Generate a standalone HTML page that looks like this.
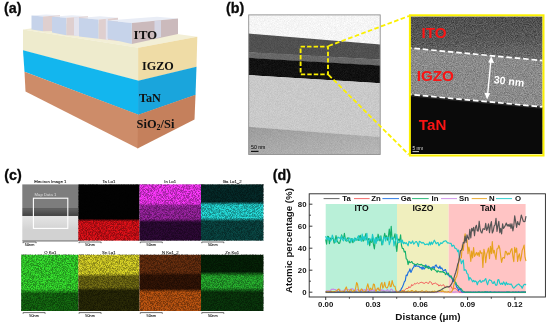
<!DOCTYPE html>
<html><head><meta charset="utf-8"><title>Figure</title>
<style>
html,body{margin:0;padding:0;background:#fff;}
body{width:550px;height:325px;overflow:hidden;}
svg{display:block}
.lab{font-family:"Liberation Sans",Arial,sans-serif;font-weight:bold;font-size:14.3px;fill:#0a0a0a;stroke:#0a0a0a;stroke-width:0.3px}
.ser{font-family:"Liberation Serif","Times New Roman",serif;font-weight:bold;font-size:11.5px;fill:#111}
.red{font-family:"Liberation Sans",Arial,sans-serif;font-weight:bold;font-size:14px;fill:#fa1414}
.tiny{font-family:"Liberation Sans",Arial,sans-serif;font-size:4.25px;fill:#000;stroke:#000;stroke-width:0.06px}
.ax{font-family:"Liberation Sans",Arial,sans-serif;font-weight:bold;font-size:7.8px;fill:#111}
.axl{font-family:"Liberation Sans",Arial,sans-serif;font-weight:bold;font-size:9.4px;fill:#111}
</style></head><body>
<svg width="550" height="325" viewBox="0 0 550 325">
<defs>
<filter id="nz" x="0" y="0" width="100%" height="100%" color-interpolation-filters="sRGB">
<feTurbulence type="fractalNoise" baseFrequency="1.37" numOctaves="2" seed="3" result="t"/>
<feColorMatrix type="matrix" values="0 0 0 0 0  0 0 0 0 0  0 0 0 0 0  3.2 0 0 0 -1.1"/>
</filter>
<filter id="nz2" x="0" y="0" width="100%" height="100%">
<feTurbulence type="fractalNoise" baseFrequency="0.9" numOctaves="2" seed="11" result="t"/>
<feColorMatrix type="matrix" values="0 0 0 0 0.5  0 0 0 0 0.5  0 0 0 0 0.5  1.2 0 0 0 -0.45"/>
</filter>
<filter id="grain" color-interpolation-filters="sRGB" x="0" y="0" width="100%" height="100%">
<feTurbulence type="fractalNoise" baseFrequency="1.1" numOctaves="2" seed="5" result="n"/>
<feColorMatrix in="n" type="matrix" values="1 0 0 0 0  1 0 0 0 0  1 0 0 0 0  0 0 0 0 1" result="g"/>
<feComposite in="SourceGraphic" in2="g" operator="arithmetic" k1="0" k2="1" k3="0.36" k4="-0.18"/>
</filter>
<filter id="grain2" color-interpolation-filters="sRGB" x="0" y="0" width="100%" height="100%">
<feTurbulence type="fractalNoise" baseFrequency="1.3" numOctaves="2" seed="9" result="n"/>
<feColorMatrix in="n" type="matrix" values="1 0 0 0 0  1 0 0 0 0  1 0 0 0 0  0 0 0 0 1" result="g"/>
<feComposite in="SourceGraphic" in2="g" operator="arithmetic" k1="0" k2="1" k3="0.13" k4="-0.065"/>
</filter>
<linearGradient id="gito" x1="0" y1="0" x2="0.1" y2="1">
<stop offset="0" stop-color="#4e4e4e"/><stop offset="0.6" stop-color="#585858"/><stop offset="1" stop-color="#6a6a6a"/></linearGradient>
<linearGradient id="gsi" x1="0" y1="0" x2="1" y2="1">
<stop offset="0" stop-color="#9c9c9c"/><stop offset="1" stop-color="#b8b8b8"/></linearGradient>
<linearGradient id="gtan" x1="0" y1="0" x2="0" y2="1">
<stop offset="0" stop-color="#3a3a3a"/><stop offset="0.25" stop-color="#0c0c0c"/><stop offset="1" stop-color="#080808"/></linearGradient>
<clipPath id="cb"><rect x="248.6" y="14.8" width="131.6" height="139.6"/></clipPath>
<clipPath id="cz"><rect x="409.5" y="16.5" width="133" height="137.5"/></clipPath>
<clipPath id="cd"><rect x="309" y="193.5" width="235.5" height="104"/></clipPath>
</defs>
<rect width="550" height="325" fill="#ffffff"/>

<g id="pa">
<text class="lab" x="4" y="13.4">(a)</text>
<polygon points="23,29.5 84,21.5 197.3,36.8 138.2,47.7" fill="#f3efd6"/>
<polygon points="23,29.5 138.8,47.7 138.8,81 23,50.5" fill="#eeebcd"/>
<polygon points="23,50.2 138.8,80.7 138.8,115 24.5,71.7" fill="#13b6ee"/>
<polygon points="24.5,71.7 138.8,114.7 138.1,148.5 25.5,91.5" fill="#cd8c69"/>
<polygon points="138.2,47.7 197.3,36.8 196.5,67 138.2,81" fill="#efdca6"/>
<polygon points="138.2,80.7 196.5,66.7 195.5,95 138.2,115" fill="#1aa5dc"/>
<polygon points="138.2,114.7 195.5,94.7 194.5,119.5 137.5,148.5" fill="#c5805c"/>
<polygon points="31.5,15.6 43,16.4 60,15.2 46,14.6" fill="#e9edf6"/>
<polygon points="43,16.4 60,15.2 60,31 43,31.2" fill="#dfcfcf"/>
<polygon points="31.5,15.6 43,16.4 43,31.2 31.5,29.5" fill="#c6d3ea"/>
<polygon points="52,16.8 66.3,17.8 88,16.2 72,15.3" fill="#e9edf6"/>
<polygon points="66.3,17.8 88,16.2 88,36 66.3,35.3" fill="#dfcfcf"/>
<polygon points="52,16.8 66.3,17.8 66.3,35.3 52,32.6" fill="#c6d3ea"/>
<polygon points="79,18 98.5,19.6 118,17.8 100,16.3" fill="#e9edf6"/>
<polygon points="98.5,19.6 118,17.8 118,41 98.5,38.8" fill="#dfcfcf"/>
<polygon points="79,18 98.5,19.6 98.5,38.8 79,36.6" fill="#c6d3ea"/>
<polygon points="74,17.3 79,17 79,35.9 74,35.7" fill="#e3e3ee"/>
<polygon points="105.8,19 108,18.8 108,40.2 105.8,39.7" fill="#e3e3ee"/>
<polygon points="107.6,20.5 131.8,23 178,18.6 157,16.8" fill="#e9edf6"/>
<polygon points="131.8,23 178,18.6 178,34 131.8,44" fill="#cbbabc"/>
<polygon points="107.6,20.5 131.8,23 131.8,44 107.6,38.6" fill="#c6d3ea"/>
<polygon points="154.5,20.8 161,20.2 161,37 154.5,38.5" fill="#d6dcec" opacity="0.8"/>
<text class="ser" x="133.6" y="38.8" style="font-size:13px">ITO</text>
<text class="ser" x="142" y="69.8" style="font-size:12.2px">IGZO</text>
<text class="ser" x="139" y="102.3" style="font-size:12.2px">TaN</text>
<text class="ser" x="136.6" y="127.8" style="font-size:12.4px">SiO<tspan dy="2.5" style="font-size:8px">2</tspan><tspan dy="-2.5">/Si</tspan></text>
</g>
<g id="pb">
<text class="lab" x="226" y="13.4">(b)</text>
<g clip-path="url(#cb)"><g filter="url(#grain2)">
<rect x="248" y="14.5" width="132" height="140" fill="#f5f5f5"/>
<polygon points="247.5,33.5 380.5,44.5 380.5,59.8 247.5,52.3" fill="#505050"/>
<polygon points="247.5,52 380.5,59.5 380.5,65.7 247.5,58" fill="#686868"/>
<polygon points="247.5,57.8 380.5,65.5 380.5,83.3 247.5,75" fill="#111111"/>
<polygon points="247.5,75 380.5,83.3 380.5,137.2 247.5,127" fill="#c9c9c9"/>
<polygon points="247.5,126.7 380.5,136.9 380.5,156 247.5,156" fill="url(#gsi)"/>
</g></g>
<rect x="248.7" y="14.9" width="131.5" height="139.6" fill="none" stroke="#909090" stroke-width="0.9"/>
<text class="tiny" x="251" y="149.4" style="font-size:5.2px;fill:#111">50 nm</text>
<rect x="251" y="150.8" width="7.5" height="1.2" fill="#111"/>
<rect x="300.6" y="46.6" width="27.4" height="27.8" fill="none" stroke="#fbf000" stroke-width="1.9" stroke-dasharray="4.4 2.1"/>
<line x1="328.5" y1="46" x2="409" y2="16" stroke="#fbf000" stroke-width="1.8" stroke-dasharray="4.6 2.4"/>
<line x1="328.5" y1="74.8" x2="408.7" y2="154.5" stroke="#fbf000" stroke-width="1.8" stroke-dasharray="4.6 2.4"/>
<g clip-path="url(#cz)"><g filter="url(#grain)">
<rect x="409" y="16" width="134" height="139" fill="#555555"/>
<polygon points="409,16 543,16 543,60.6 409,47.9" fill="url(#gito)"/>
<polygon points="409,47.9 543,60.6 543,106.9 409,94.4" fill="#8a8a8a"/>
</g>
<polygon points="409,94.4 543,106.9 543,156 409,156" fill="#0a0a0a"/>
<polygon points="409,94.4 543,106.9 543,109 409,96.5" fill="#333" opacity="0.7"/>
<line x1="409" y1="47.9" x2="543" y2="60.6" stroke="#fff" stroke-width="1.7" stroke-dasharray="5.6 2.8" stroke-dashoffset="3"/>
<line x1="409" y1="94.4" x2="543" y2="106.9" stroke="#fff" stroke-width="1.7" stroke-dasharray="5.6 2.8" stroke-dashoffset="3"/>
</g>
<rect x="409.9" y="15.3" width="133.6" height="140.2" fill="none" stroke="#fbf000" stroke-width="2"/>
<text class="red" x="421.6" y="37.9" style="font-size:15.2px">ITO</text>
<text class="red" x="416.8" y="81.2" style="font-size:15.2px">IGZO</text>
<text class="red" x="418.8" y="129.5" style="font-size:15.2px">TaN</text>
<g stroke="#fff" stroke-width="1.4" fill="#fff"><line x1="490.9" y1="60" x2="487.5" y2="96"/><polygon points="491.3,56.2 494,63 488.2,62.4" stroke="none"/><polygon points="487.1,99.6 490.2,93.2 484.4,92.7" stroke="none"/></g>
<text x="493.5" y="83" transform="rotate(7 493.5 83)" font-family="Liberation Sans, Arial, sans-serif" font-weight="bold" style="font-size:10.6px;fill:#fff">30 nm</text>
<text class="tiny" x="412.5" y="150.3" style="font-size:4.8px;fill:#e8e8e8">5 nm</text>
<rect x="412.5" y="151.2" width="6.5" height="0.9" fill="#e8e8e8"/>
</g>
<g id="pc">
<text class="lab" x="4.3" y="180.4">(c)</text>
<linearGradient id="tg1" gradientUnits="userSpaceOnUse" x1="0" y1="184.4" x2="0" y2="240.6"><stop offset="0.000" stop-color="#7d7d7d"/><stop offset="0.416" stop-color="#7d7d7d"/><stop offset="0.427" stop-color="#5f5f5f"/><stop offset="0.447" stop-color="#5f5f5f"/><stop offset="0.536" stop-color="#484848"/><stop offset="0.555" stop-color="#484848"/><stop offset="0.569" stop-color="#e2e2e2"/><stop offset="0.598" stop-color="#e2e2e2"/><stop offset="0.811" stop-color="#d2d2d2"/><stop offset="1.000" stop-color="#d2d2d2"/></linearGradient>
<rect x="22.3" y="184.4" width="56.0" height="56.2" fill="url(#tg1)"/>
<linearGradient id="tg2" gradientUnits="userSpaceOnUse" x1="0" y1="184.4" x2="0" y2="240.6"><stop offset="0.000" stop-color="#030303"/><stop offset="0.610" stop-color="#030303"/><stop offset="0.657" stop-color="#e41119"/><stop offset="1.000" stop-color="#e41119"/></linearGradient>
<rect x="78.3" y="184.4" width="61.2" height="56.2" fill="url(#tg2)"/>
<linearGradient id="tg3" gradientUnits="userSpaceOnUse" x1="0" y1="184.4" x2="0" y2="240.6"><stop offset="0.000" stop-color="#ff38ff"/><stop offset="0.331" stop-color="#ff38ff"/><stop offset="0.388" stop-color="#a025a7"/><stop offset="0.614" stop-color="#a025a7"/><stop offset="0.671" stop-color="#2f0a38"/><stop offset="1.000" stop-color="#2f0a38"/></linearGradient>
<rect x="139.5" y="184.4" width="61.5" height="56.2" fill="url(#tg3)"/>
<linearGradient id="tg4" gradientUnits="userSpaceOnUse" x1="0" y1="184.4" x2="0" y2="240.6"><stop offset="0.000" stop-color="#052b2a"/><stop offset="0.308" stop-color="#052b2a"/><stop offset="0.365" stop-color="#25dedc"/><stop offset="0.598" stop-color="#25dedc"/><stop offset="0.655" stop-color="#0a4845"/><stop offset="1.000" stop-color="#0a4845"/></linearGradient>
<rect x="201" y="184.4" width="62.4" height="56.2" fill="url(#tg4)"/>
<linearGradient id="tg5" gradientUnits="userSpaceOnUse" x1="0" y1="254.8" x2="0" y2="311"><stop offset="0.000" stop-color="#38e42f"/><stop offset="0.610" stop-color="#38e42f"/><stop offset="0.689" stop-color="#156d11"/><stop offset="1.000" stop-color="#156d11"/></linearGradient>
<rect x="21.2" y="254.8" width="57.1" height="56.2" fill="url(#tg5)"/>
<linearGradient id="tg6" gradientUnits="userSpaceOnUse" x1="0" y1="254.8" x2="0" y2="311"><stop offset="0.000" stop-color="#ded828"/><stop offset="0.331" stop-color="#ded828"/><stop offset="0.388" stop-color="#756f14"/><stop offset="0.580" stop-color="#756f14"/><stop offset="0.637" stop-color="#2a2a07"/><stop offset="1.000" stop-color="#2a2a07"/></linearGradient>
<rect x="78.3" y="254.8" width="61.2" height="56.2" fill="url(#tg6)"/>
<linearGradient id="tg7" gradientUnits="userSpaceOnUse" x1="0" y1="254.8" x2="0" y2="311"><stop offset="0.000" stop-color="#692f0f"/><stop offset="0.310" stop-color="#692f0f"/><stop offset="0.367" stop-color="#341506"/><stop offset="0.605" stop-color="#341506"/><stop offset="0.662" stop-color="#bf5611"/><stop offset="1.000" stop-color="#bf5611"/></linearGradient>
<rect x="139.5" y="254.8" width="61.5" height="56.2" fill="url(#tg7)"/>
<linearGradient id="tg8" gradientUnits="userSpaceOnUse" x1="0" y1="254.8" x2="0" y2="311"><stop offset="0.000" stop-color="#052307"/><stop offset="0.299" stop-color="#052307"/><stop offset="0.377" stop-color="#28b32f"/><stop offset="0.587" stop-color="#28b32f"/><stop offset="0.665" stop-color="#0a380c"/><stop offset="1.000" stop-color="#0a380c"/></linearGradient>
<rect x="201" y="254.8" width="62.4" height="56.2" fill="url(#tg8)"/>
<rect x="78.3" y="184.4" width="185.1" height="56.0" filter="url(#nz)" opacity="0.38"/>
<rect x="21.2" y="254.8" width="242.2" height="56.2" filter="url(#nz)" opacity="0.38"/>
<rect x="33.4" y="198.2" width="34.4" height="30.2" fill="none" stroke="#fff" stroke-width="1.1"/>
<text x="34.6" y="196" font-family="Liberation Sans, Arial, sans-serif" style="font-size:4.2px;fill:#dedede">Map Data 1</text>
<text class="tiny" x="50.3" y="183.2" text-anchor="middle">Electron Image 1</text>
<text class="tiny" x="50.3" y="253.5" text-anchor="middle">O Kα1</text>
<path d="M23.1,243.2 V242.0 H36.1 V243.2" fill="none" stroke="#333" stroke-width="0.7"/>
<text class="tiny" x="29.6" y="246.0" text-anchor="middle" style="font-size:3.8px">50nm</text>
<path d="M23.1,313.8 V312.6 H45.1 V313.8" fill="none" stroke="#333" stroke-width="0.7"/>
<text class="tiny" x="34.1" y="316.6" text-anchor="middle" style="font-size:3.8px">50nm</text>
<text class="tiny" x="108.9" y="183.2" text-anchor="middle">Ta Lα1</text>
<text class="tiny" x="108.9" y="253.5" text-anchor="middle">Sn Lα1</text>
<path d="M79.1,243.2 V242.0 H101.1 V243.2" fill="none" stroke="#333" stroke-width="0.7"/>
<text class="tiny" x="90.1" y="246.0" text-anchor="middle" style="font-size:3.8px">50nm</text>
<path d="M79.1,313.8 V312.6 H101.1 V313.8" fill="none" stroke="#333" stroke-width="0.7"/>
<text class="tiny" x="90.1" y="316.6" text-anchor="middle" style="font-size:3.8px">50nm</text>
<text class="tiny" x="170.2" y="183.2" text-anchor="middle">In Lα1</text>
<text class="tiny" x="170.2" y="253.5" text-anchor="middle">N Kα1_2</text>
<path d="M140.3,243.2 V242.0 H162.3 V243.2" fill="none" stroke="#333" stroke-width="0.7"/>
<text class="tiny" x="151.3" y="246.0" text-anchor="middle" style="font-size:3.8px">50nm</text>
<path d="M140.3,313.8 V312.6 H162.3 V313.8" fill="none" stroke="#333" stroke-width="0.7"/>
<text class="tiny" x="151.3" y="316.6" text-anchor="middle" style="font-size:3.8px">50nm</text>
<text class="tiny" x="232.2" y="183.2" text-anchor="middle">Ga Lα1_2</text>
<text class="tiny" x="232.2" y="253.5" text-anchor="middle">Zn Kα1</text>
<path d="M201.8,243.2 V242.0 H223.8 V243.2" fill="none" stroke="#333" stroke-width="0.7"/>
<text class="tiny" x="212.8" y="246.0" text-anchor="middle" style="font-size:3.8px">50nm</text>
<path d="M201.8,313.8 V312.6 H223.8 V313.8" fill="none" stroke="#333" stroke-width="0.7"/>
<text class="tiny" x="212.8" y="316.6" text-anchor="middle" style="font-size:3.8px">50nm</text>
<rect x="22.3" y="240.5" width="56" height="0.9" fill="#555"/>
</g>
<g id="pd">
<text class="lab" x="272.8" y="180.4">(d)</text>
<rect x="325.7" y="204" width="71.3" height="89.2" fill="#b9f0d8"/>
<rect x="397.0" y="204" width="51.7" height="89.2" fill="#f0efbe"/>
<rect x="448.7" y="204" width="76.9" height="89.2" fill="#ffc4c4"/>
<g clip-path="url(#cd)">
<polyline points="325.7,291.7 326.6,290.9 327.6,291.0 328.5,290.9 329.4,291.1 330.4,290.5 331.3,289.2 332.3,289.4 333.2,289.0 334.1,289.5 335.1,289.5 336.0,289.7 336.9,291.2 337.9,289.6 338.8,289.5 339.7,289.4 340.7,291.1 341.6,291.7 342.5,291.2 343.5,290.7 344.4,289.9 345.4,290.0 346.3,289.5 347.2,290.3 348.2,289.8 349.1,289.6 350.0,290.4 351.0,288.7 351.9,289.1 352.8,288.8 353.8,290.1 354.7,290.6 355.6,290.4 356.6,290.2 357.5,289.5 358.5,289.6 359.4,290.2 360.3,290.8 361.3,290.6 362.2,289.2 363.1,290.4 364.1,289.9 365.0,289.6 365.9,291.0 366.9,290.2 367.8,289.0 368.8,291.3 369.7,290.6 370.6,290.2 371.6,290.7 372.5,289.8 373.4,289.9 374.4,291.1 375.3,289.6 376.2,289.3 377.2,289.0 378.1,288.5 379.0,289.2 380.0,289.6 380.9,290.9 381.9,289.7 382.8,290.4 383.7,290.4 384.7,291.1 385.6,291.1 386.5,290.7 387.5,289.2 388.4,291.3 389.3,291.5 390.3,290.2 391.2,289.0 392.1,289.4 393.1,291.3 394.0,292.1 395.0,291.0 395.9,291.4 396.8,291.7 397.8,291.4 398.7,291.5 399.6,291.8 400.6,291.9 401.5,292.0 402.4,291.8 403.4,291.9 404.3,291.9 405.3,291.9 406.2,292.2 407.1,291.9 408.1,291.9 409.0,291.9 409.9,292.2 410.9,292.2 411.8,292.0 412.7,292.2 413.7,292.1 414.6,291.9 415.5,292.2 416.5,291.9 417.4,291.9 418.4,292.0 419.3,292.0 420.2,291.9 421.2,292.0 422.1,291.9 423.0,292.1 424.0,292.1 424.9,291.9 425.8,292.0 426.8,292.1 427.7,291.9 428.6,291.8 429.6,292.0 430.5,292.2 431.5,292.1 432.4,292.1 433.3,292.1 434.3,291.9 435.2,292.1 436.1,291.9 437.1,292.2 438.0,292.2 438.9,292.0 439.9,291.9 440.8,291.9 441.7,291.9 442.7,292.0 443.6,292.0 444.6,291.9 445.5,292.0 446.4,292.0 447.4,291.9 448.3,292.0 449.2,291.9 450.2,291.9 451.1,291.7 452.0,291.9 453.0,292.1 453.9,292.1 454.9,292.1 455.8,291.9 456.7,292.0 457.7,292.0 458.6,291.8 459.5,292.2 460.5,292.2 461.4,292.1 462.3,292.0 463.3,292.0 464.2,292.1 465.1,292.0 466.1,292.0 467.0,292.1 468.0,291.7 468.9,291.9 469.8,292.1 470.8,292.1 471.7,292.1 472.6,292.1 473.6,292.2 474.5,292.2 475.4,292.0 476.4,292.2 477.3,292.1 478.2,291.9 479.2,291.9 480.1,291.8 481.1,292.2 482.0,292.1 482.9,292.1 483.9,292.0 484.8,291.9 485.7,292.2 486.7,292.0 487.6,292.2 488.5,292.0 489.5,292.2 490.4,292.1 491.4,291.9 492.3,292.0 493.2,292.0 494.2,291.9 495.1,292.0 496.0,292.0 497.0,291.8 497.9,291.8 498.8,292.0 499.8,291.7 500.7,292.1 501.6,291.9 502.6,292.0 503.5,292.0 504.5,291.9 505.4,292.0 506.3,291.9 507.3,292.2 508.2,292.2 509.1,292.0 510.1,292.2 511.0,292.2 511.9,292.2 512.9,291.9 513.8,291.9 514.7,291.8 515.7,292.1 516.6,292.1 517.6,292.2 518.5,292.0 519.4,291.8 520.4,292.1 521.3,291.8 522.2,291.8 523.2,292.0 524.1,292.2 525.0,291.9 526.0,292.0" fill="none" stroke="#c98ae6" stroke-width="1.1" stroke-linejoin="round"/>
<polyline points="325.7,292.2 326.6,292.2 327.6,292.1 328.5,292.0 329.4,292.2 330.4,292.1 331.3,292.0 332.3,291.9 333.2,292.1 334.1,292.2 335.1,292.1 336.0,292.2 336.9,292.2 337.9,292.0 338.8,292.2 339.7,292.2 340.7,292.2 341.6,292.2 342.5,292.2 343.5,292.2 344.4,292.2 345.4,292.2 346.3,292.1 347.2,292.2 348.2,292.0 349.1,292.2 350.0,292.0 351.0,292.0 351.9,291.9 352.8,292.2 353.8,292.1 354.7,292.2 355.6,292.2 356.6,292.2 357.5,292.2 358.5,292.2 359.4,292.2 360.3,292.2 361.3,292.2 362.2,292.2 363.1,292.2 364.1,292.0 365.0,292.1 365.9,292.1 366.9,292.0 367.8,292.2 368.8,292.2 369.7,292.2 370.6,292.1 371.6,292.2 372.5,292.2 373.4,292.1 374.4,292.1 375.3,292.2 376.2,292.1 377.2,292.1 378.1,292.2 379.0,292.2 380.0,292.2 380.9,292.1 381.9,292.2 382.8,292.2 383.7,292.2 384.7,292.2 385.6,292.2 386.5,292.2 387.5,292.2 388.4,292.2 389.3,292.2 390.3,292.2 391.2,292.2 392.1,292.2 393.1,292.2 394.0,292.2 395.0,292.2 395.9,292.2 396.8,292.2 397.8,292.1 398.7,291.9 399.6,291.7 400.6,291.5 401.5,290.9 402.4,290.6 403.4,290.3 404.3,290.8 405.3,289.5 406.2,288.5 407.1,288.6 408.1,288.4 409.0,286.6 409.9,287.8 410.9,286.5 411.8,284.5 412.7,285.7 413.7,284.7 414.6,283.4 415.5,283.9 416.5,283.4 417.4,282.8 418.4,283.6 419.3,283.2 420.2,282.7 421.2,282.2 422.1,282.6 423.0,282.8 424.0,283.4 424.9,283.2 425.8,282.3 426.8,282.5 427.7,283.2 428.6,283.5 429.6,281.5 430.5,281.9 431.5,282.5 432.4,284.8 433.3,283.6 434.3,283.5 435.2,282.9 436.1,283.6 437.1,284.3 438.0,284.3 438.9,286.1 439.9,284.9 440.8,285.1 441.7,286.0 442.7,285.1 443.6,284.7 444.6,286.6 445.5,286.9 446.4,286.4 447.4,286.4 448.3,286.8 449.2,287.5 450.2,285.9 451.1,286.4 452.0,288.3 453.0,289.3 453.9,288.0 454.9,288.5 455.8,288.6 456.7,289.5 457.7,290.9 458.6,291.1 459.5,292.2 460.5,292.2 461.4,292.2 462.3,292.1 463.3,292.2 464.2,292.2 465.1,292.1 466.1,292.1 467.0,292.1 468.0,292.1 468.9,292.2 469.8,292.1 470.8,292.2 471.7,292.2 472.6,292.2 473.6,292.2 474.5,292.2 475.4,292.2 476.4,292.2 477.3,292.2 478.2,292.2 479.2,292.2 480.1,292.2 481.1,292.1 482.0,292.1 482.9,292.2 483.9,292.1 484.8,292.2 485.7,292.2 486.7,292.2 487.6,292.2 488.5,292.1 489.5,292.2 490.4,292.2 491.4,292.2 492.3,292.1 493.2,292.2 494.2,292.2 495.1,292.2 496.0,292.2 497.0,292.1 497.9,292.2 498.8,292.0 499.8,292.0 500.7,292.2 501.6,292.1 502.6,292.0 503.5,292.0 504.5,292.0 505.4,292.2 506.3,292.2 507.3,292.1 508.2,292.2 509.1,292.1 510.1,292.1 511.0,292.0 511.9,292.2 512.9,291.9 513.8,291.9 514.7,292.1 515.7,292.2 516.6,291.8 517.6,292.1 518.5,292.1 519.4,292.0 520.4,292.1 521.3,292.2 522.2,292.2 523.2,292.2 524.1,292.0 525.0,292.0 526.0,292.2" fill="none" stroke="#f25a5a" stroke-width="1.0" stroke-linejoin="round"/>
<polyline points="325.7,292.1 326.6,292.1 327.6,292.1 328.5,292.2 329.4,292.2 330.4,292.1 331.3,292.2 332.3,292.2 333.2,292.2 334.1,292.2 335.1,292.2 336.0,292.2 336.9,292.2 337.9,292.2 338.8,292.1 339.7,292.2 340.7,292.2 341.6,292.2 342.5,292.0 343.5,292.1 344.4,292.0 345.4,292.2 346.3,292.2 347.2,292.2 348.2,292.2 349.1,292.1 350.0,292.2 351.0,292.2 351.9,292.1 352.8,292.2 353.8,292.2 354.7,292.2 355.6,292.2 356.6,292.2 357.5,292.2 358.5,292.2 359.4,292.1 360.3,292.1 361.3,292.0 362.2,292.0 363.1,292.2 364.1,292.2 365.0,292.2 365.9,292.2 366.9,292.2 367.8,292.2 368.8,292.1 369.7,292.2 370.6,292.2 371.6,292.2 372.5,292.2 373.4,292.2 374.4,292.2 375.3,292.2 376.2,292.1 377.2,292.1 378.1,292.2 379.0,292.2 380.0,292.2 380.9,292.2 381.9,292.2 382.8,292.2 383.7,292.2 384.7,292.2 385.6,292.2 386.5,292.2 387.5,292.2 388.4,292.2 389.3,292.2 390.3,292.1 391.2,292.2 392.1,292.2 393.1,292.2 394.0,292.2 395.0,292.1 395.9,292.1 396.8,292.2 397.8,292.2 398.7,292.0 399.6,291.3 400.6,290.5 401.5,288.6 402.4,287.0 403.4,284.6 404.3,281.9 405.3,280.6 406.2,275.0 407.1,275.6 408.1,272.3 409.0,271.6 409.9,268.9 410.9,272.4 411.8,270.5 412.7,268.3 413.7,267.2 414.6,264.4 415.5,266.4 416.5,265.7 417.4,266.2 418.4,266.1 419.3,266.7 420.2,267.8 421.2,267.2 422.1,269.3 423.0,266.7 424.0,269.1 424.9,268.0 425.8,264.9 426.8,267.4 427.7,267.8 428.6,266.2 429.6,267.4 430.5,269.0 431.5,267.9 432.4,267.1 433.3,266.7 434.3,268.7 435.2,265.7 436.1,264.9 437.1,267.0 438.0,267.3 438.9,268.4 439.9,266.1 440.8,268.7 441.7,267.8 442.7,269.7 443.6,271.1 444.6,270.1 445.5,269.6 446.4,272.1 447.4,274.7 448.3,274.2 449.2,276.2 450.2,277.2 451.1,276.7 452.0,278.0 453.0,281.8 453.9,279.9 454.9,283.4 455.8,284.3 456.7,287.2 457.7,288.0 458.6,290.5 459.5,288.8 460.5,289.3 461.4,291.6 462.3,292.2 463.3,292.2 464.2,292.0 465.1,292.2 466.1,292.2 467.0,292.2 468.0,292.2 468.9,292.2 469.8,292.2 470.8,292.2 471.7,292.2 472.6,292.2 473.6,292.1 474.5,292.2 475.4,292.2 476.4,292.2 477.3,292.2 478.2,292.0 479.2,292.0 480.1,292.2 481.1,292.2 482.0,292.2 482.9,292.2 483.9,292.2 484.8,292.2 485.7,292.1 486.7,292.1 487.6,291.9 488.5,292.2 489.5,292.2 490.4,291.8 491.4,292.2 492.3,292.2 493.2,292.2 494.2,292.2 495.1,292.1 496.0,292.2 497.0,292.2 497.9,292.2 498.8,292.1 499.8,292.2 500.7,292.2 501.6,292.2 502.6,292.2 503.5,292.2 504.5,292.2 505.4,292.2 506.3,292.1 507.3,292.1 508.2,292.1 509.1,292.1 510.1,292.2 511.0,292.2 511.9,292.2 512.9,292.2 513.8,292.2 514.7,292.2 515.7,292.1 516.6,292.2 517.6,292.1 518.5,291.9 519.4,292.2 520.4,292.2 521.3,292.2 522.2,292.0 523.2,292.1 524.1,292.1 525.0,292.2 526.0,292.2" fill="none" stroke="#1a6ee0" stroke-width="1.15" stroke-linejoin="round"/>
<polyline points="325.7,239.4 326.6,244.1 327.6,236.3 328.5,236.6 329.4,243.6 330.4,238.1 331.3,239.5 332.3,238.2 333.2,238.3 334.1,243.2 335.1,240.5 336.0,235.6 336.9,240.4 337.9,242.2 338.8,243.4 339.7,243.2 340.7,239.1 341.6,234.9 342.5,237.6 343.5,238.5 344.4,233.4 345.4,239.9 346.3,241.2 347.2,238.3 348.2,237.8 349.1,241.8 350.0,242.9 351.0,239.1 351.9,238.7 352.8,242.7 353.8,240.4 354.7,241.0 355.6,238.4 356.6,239.6 357.5,239.7 358.5,240.4 359.4,236.8 360.3,235.3 361.3,239.8 362.2,237.1 363.1,241.2 364.1,239.5 365.0,236.9 365.9,233.6 366.9,239.9 367.8,239.7 368.8,238.5 369.7,245.7 370.6,240.0 371.6,242.4 372.5,237.6 373.4,244.1 374.4,249.0 375.3,239.9 376.2,237.3 377.2,240.8 378.1,234.2 379.0,238.7 380.0,240.9 380.9,235.9 381.9,245.0 382.8,241.9 383.7,238.2 384.7,233.4 385.6,237.5 386.5,235.8 387.5,240.2 388.4,236.2 389.3,229.0 390.3,239.4 391.2,226.4 392.1,239.3 393.1,238.3 394.0,237.7 395.0,233.8 395.9,244.8 396.8,251.5 397.8,240.4 398.7,239.1 399.6,241.2 400.6,234.8 401.5,245.5 402.4,248.5 403.4,248.6 404.3,252.0 405.3,251.3 406.2,258.8 407.1,259.4 408.1,264.6 409.0,261.0 409.9,262.6 410.9,262.3 411.8,261.5 412.7,263.3 413.7,263.8 414.6,264.2 415.5,264.6 416.5,264.6 417.4,263.7 418.4,264.2 419.3,264.5 420.2,265.0 421.2,264.3 422.1,264.9 423.0,265.8 424.0,265.5 424.9,266.4 425.8,267.8 426.8,266.0 427.7,266.9 428.6,268.6 429.6,267.4 430.5,268.2 431.5,270.3 432.4,268.1 433.3,269.2 434.3,269.2 435.2,270.1 436.1,270.8 437.1,272.3 438.0,270.6 438.9,271.4 439.9,271.9 440.8,271.6 441.7,272.0 442.7,271.6 443.6,272.5 444.6,272.5 445.5,274.6 446.4,273.7 447.4,273.2 448.3,273.1 449.2,275.4 450.2,276.3 451.1,275.9 452.0,278.5 453.0,279.0 453.9,279.3 454.9,281.8 455.8,282.4 456.7,284.9 457.7,285.7 458.6,287.0 459.5,288.0 460.5,288.5 461.4,289.0 462.3,290.8 463.3,291.5 464.2,291.7 465.1,292.2 466.1,292.2 467.0,292.1 468.0,292.2 468.9,292.1 469.8,292.2 470.8,292.1 471.7,292.2 472.6,292.2 473.6,292.2 474.5,292.2 475.4,292.1 476.4,292.2 477.3,292.2 478.2,292.1 479.2,292.0 480.1,292.2 481.1,292.2 482.0,292.1 482.9,292.1 483.9,292.2 484.8,291.9 485.7,291.9 486.7,292.2 487.6,292.2 488.5,292.2 489.5,292.1 490.4,292.1 491.4,292.2 492.3,292.2 493.2,292.2 494.2,292.1 495.1,292.2 496.0,292.2 497.0,292.2 497.9,292.2 498.8,292.2 499.8,292.2 500.7,292.2 501.6,292.2 502.6,292.2 503.5,292.2 504.5,292.2 505.4,292.2 506.3,292.2 507.3,292.1 508.2,292.1 509.1,292.0 510.1,292.2 511.0,292.2 511.9,292.2 512.9,292.0 513.8,292.2 514.7,292.2 515.7,292.1 516.6,292.2 517.6,292.2 518.5,292.2 519.4,292.2 520.4,292.2 521.3,292.1 522.2,292.2 523.2,292.1 524.1,292.2 525.0,292.1 526.0,292.1" fill="none" stroke="#14b06a" stroke-width="1.15" stroke-linejoin="round"/>
<polyline points="325.7,236.1 326.6,239.3 327.6,237.2 328.5,240.0 329.4,237.7 330.4,241.1 331.3,240.0 332.3,235.1 333.2,237.4 334.1,239.4 335.1,242.3 336.0,242.0 336.9,239.4 337.9,237.0 338.8,237.8 339.7,237.8 340.7,239.2 341.6,235.9 342.5,239.7 343.5,240.8 344.4,237.4 345.4,238.8 346.3,240.0 347.2,241.0 348.2,240.4 349.1,238.0 350.0,238.2 351.0,242.2 351.9,238.9 352.8,238.8 353.8,241.8 354.7,237.9 355.6,239.8 356.6,240.3 357.5,237.6 358.5,235.7 359.4,240.4 360.3,238.5 361.3,241.4 362.2,234.0 363.1,239.6 364.1,236.4 365.0,240.4 365.9,237.6 366.9,233.4 367.8,244.6 368.8,241.5 369.7,238.6 370.6,239.5 371.6,241.1 372.5,234.3 373.4,238.2 374.4,243.3 375.3,238.0 376.2,243.5 377.2,237.3 378.1,240.4 379.0,239.2 380.0,236.2 380.9,238.5 381.9,242.7 382.8,244.4 383.7,237.4 384.7,237.1 385.6,241.0 386.5,237.5 387.5,237.8 388.4,237.4 389.3,244.7 390.3,241.3 391.2,237.7 392.1,237.5 393.1,237.3 394.0,245.9 395.0,241.2 395.9,239.7 396.8,234.4 397.8,242.5 398.7,242.7 399.6,242.1 400.6,240.1 401.5,243.0 402.4,240.1 403.4,243.8 404.3,242.4 405.3,243.6 406.2,242.6 407.1,243.9 408.1,245.8 409.0,241.4 409.9,241.9 410.9,243.5 411.8,242.5 412.7,240.9 413.7,244.1 414.6,243.2 415.5,241.8 416.5,241.6 417.4,243.1 418.4,246.5 419.3,241.3 420.2,241.8 421.2,242.5 422.1,243.2 423.0,242.3 424.0,243.4 424.9,244.6 425.8,244.4 426.8,244.1 427.7,244.1 428.6,245.0 429.6,242.0 430.5,244.9 431.5,242.0 432.4,244.3 433.3,242.4 434.3,240.2 435.2,241.8 436.1,243.8 437.1,242.8 438.0,242.5 438.9,245.7 439.9,244.4 440.8,242.7 441.7,243.5 442.7,242.7 443.6,241.4 444.6,241.1 445.5,240.8 446.4,241.3 447.4,242.9 448.3,242.8 449.2,243.2 450.2,243.3 451.1,243.3 452.0,246.4 453.0,245.3 453.9,245.4 454.9,248.2 455.8,248.4 456.7,248.9 457.7,251.7 458.6,250.0 459.5,259.6 460.5,259.1 461.4,263.7 462.3,261.5 463.3,260.0 464.2,270.4 465.1,269.6 466.1,270.5 467.0,273.6 468.0,274.2 468.9,280.2 469.8,277.4 470.8,278.6 471.7,280.0 472.6,281.8 473.6,280.4 474.5,281.8 475.4,281.0 476.4,281.9 477.3,284.7 478.2,282.0 479.2,281.2 480.1,280.2 481.1,282.4 482.0,281.7 482.9,280.7 483.9,281.2 484.8,279.8 485.7,278.5 486.7,282.4 487.6,284.7 488.5,281.3 489.5,279.7 490.4,280.3 491.4,280.7 492.3,282.9 493.2,283.5 494.2,281.4 495.1,283.7 496.0,285.5 497.0,284.8 497.9,279.7 498.8,279.6 499.8,283.4 500.7,284.3 501.6,283.2 502.6,284.5 503.5,281.9 504.5,283.4 505.4,285.2 506.3,282.2 507.3,284.4 508.2,283.8 509.1,284.1 510.1,284.6 511.0,283.9 511.9,285.3 512.9,287.3 513.8,288.2 514.7,287.1 515.7,286.3 516.6,285.1 517.6,284.8 518.5,284.0 519.4,284.6 520.4,286.0 521.3,286.2 522.2,288.3 523.2,285.9 524.1,284.5 525.0,284.2 526.0,285.1" fill="none" stroke="#1ccaca" stroke-width="1.15" stroke-linejoin="round"/>
<polyline points="325.7,292.1 326.6,291.5 327.6,292.1 328.5,291.6 329.4,291.7 330.4,292.0 331.3,291.2 332.3,291.9 333.2,291.9 334.1,291.5 335.1,291.5 336.0,291.1 336.9,290.7 337.9,289.5 338.8,289.0 339.7,290.9 340.7,291.5 341.6,291.2 342.5,291.3 343.5,291.6 344.4,291.9 345.4,288.7 346.3,286.9 347.2,289.6 348.2,291.9 349.1,291.7 350.0,290.2 351.0,289.3 351.9,290.8 352.8,292.2 353.8,290.5 354.7,291.1 355.6,288.3 356.6,282.6 357.5,284.1 358.5,290.2 359.4,291.6 360.3,290.7 361.3,288.9 362.2,289.6 363.1,291.7 364.1,291.9 365.0,291.2 365.9,291.2 366.9,286.9 367.8,283.8 368.8,288.0 369.7,290.2 370.6,288.1 371.6,289.5 372.5,289.2 373.4,284.1 374.4,284.6 375.3,289.9 376.2,291.6 377.2,288.8 378.1,287.8 379.0,290.2 380.0,290.4 380.9,284.2 381.9,282.5 382.8,288.1 383.7,286.5 384.7,282.3 385.6,287.0 386.5,288.0 387.5,287.6 388.4,285.4 389.3,281.4 390.3,286.8 391.2,286.5 392.1,280.5 393.1,284.3 394.0,286.2 395.0,286.4 395.9,290.3 396.8,292.1 397.8,292.1 398.7,292.1 399.6,292.2 400.6,291.7 401.5,292.2 402.4,290.6 403.4,292.0 404.3,291.6 405.3,291.8 406.2,291.8 407.1,292.1 408.1,290.8 409.0,291.7 409.9,291.4 410.9,291.2 411.8,290.5 412.7,290.8 413.7,292.1 414.6,291.8 415.5,290.9 416.5,291.1 417.4,291.9 418.4,291.7 419.3,291.9 420.2,292.0 421.2,291.3 422.1,290.8 423.0,291.4 424.0,292.0 424.9,292.1 425.8,291.0 426.8,291.1 427.7,292.1 428.6,291.9 429.6,292.0 430.5,292.1 431.5,291.9 432.4,291.3 433.3,291.8 434.3,291.1 435.2,291.5 436.1,291.8 437.1,291.4 438.0,291.4 438.9,291.5 439.9,291.0 440.8,291.1 441.7,291.6 442.7,290.8 443.6,291.5 444.6,291.9 445.5,291.9 446.4,292.0 447.4,292.1 448.3,291.5 449.2,292.2 450.2,292.2 451.1,292.2 452.0,291.0 453.0,289.1 453.9,284.7 454.9,281.1 455.8,277.9 456.7,276.4 457.7,272.1 458.6,262.1 459.5,258.4 460.5,258.2 461.4,257.6 462.3,244.9 463.3,250.5 464.2,240.4 465.1,233.7 466.1,240.8 467.0,239.7 468.0,253.7 468.9,247.1 469.8,251.7 470.8,261.5 471.7,251.1 472.6,258.0 473.6,247.6 474.5,256.5 475.4,254.8 476.4,252.4 477.3,255.3 478.2,252.5 479.2,256.4 480.1,250.6 481.1,253.4 482.0,252.6 482.9,267.5 483.9,249.2 484.8,253.1 485.7,262.7 486.7,254.1 487.6,251.4 488.5,248.0 489.5,258.6 490.4,246.4 491.4,253.8 492.3,241.6 493.2,253.2 494.2,250.2 495.1,255.2 496.0,259.5 497.0,248.7 497.9,248.6 498.8,245.4 499.8,248.5 500.7,256.1 501.6,262.4 502.6,257.9 503.5,257.5 504.5,258.2 505.4,251.2 506.3,251.8 507.3,254.9 508.2,252.9 509.1,254.4 510.1,252.7 511.0,249.8 511.9,248.5 512.9,256.6 513.8,261.6 514.7,247.3 515.7,252.5 516.6,248.0 517.6,261.4 518.5,256.1 519.4,253.8 520.4,261.0 521.3,257.0 522.2,250.4 523.2,247.9 524.1,245.1 525.0,257.2 526.0,261.1" fill="none" stroke="#e6a11c" stroke-width="1.1" stroke-linejoin="round"/>
<polyline points="325.7,292.1 326.6,292.1 327.6,292.2 328.5,292.2 329.4,292.1 330.4,292.1 331.3,292.1 332.3,292.2 333.2,292.2 334.1,292.1 335.1,292.2 336.0,292.2 336.9,292.2 337.9,292.1 338.8,292.2 339.7,292.1 340.7,292.2 341.6,292.2 342.5,292.2 343.5,292.1 344.4,292.0 345.4,292.2 346.3,292.0 347.2,292.0 348.2,292.1 349.1,292.1 350.0,292.0 351.0,292.2 351.9,292.2 352.8,292.2 353.8,292.2 354.7,292.0 355.6,292.1 356.6,292.1 357.5,292.2 358.5,292.2 359.4,292.2 360.3,292.1 361.3,292.2 362.2,292.2 363.1,292.2 364.1,292.2 365.0,292.1 365.9,292.1 366.9,292.2 367.8,292.1 368.8,292.1 369.7,292.2 370.6,292.2 371.6,292.2 372.5,292.2 373.4,292.2 374.4,292.2 375.3,292.2 376.2,292.2 377.2,292.2 378.1,292.1 379.0,292.2 380.0,292.2 380.9,292.2 381.9,292.2 382.8,292.1 383.7,292.1 384.7,292.1 385.6,292.2 386.5,292.2 387.5,292.2 388.4,292.2 389.3,292.2 390.3,292.2 391.2,292.2 392.1,292.2 393.1,292.2 394.0,292.2 395.0,292.2 395.9,292.0 396.8,292.2 397.8,292.2 398.7,292.2 399.6,292.2 400.6,292.1 401.5,292.2 402.4,292.1 403.4,292.0 404.3,292.1 405.3,292.2 406.2,292.1 407.1,292.1 408.1,292.2 409.0,292.2 409.9,292.2 410.9,292.2 411.8,292.1 412.7,292.2 413.7,292.2 414.6,292.1 415.5,292.1 416.5,292.0 417.4,292.2 418.4,292.1 419.3,292.0 420.2,292.0 421.2,292.2 422.1,292.2 423.0,292.2 424.0,292.1 424.9,292.1 425.8,292.2 426.8,292.2 427.7,292.1 428.6,292.2 429.6,292.1 430.5,292.2 431.5,292.0 432.4,292.1 433.3,292.2 434.3,292.2 435.2,292.0 436.1,292.0 437.1,291.7 438.0,291.2 438.9,290.8 439.9,290.4 440.8,290.0 441.7,289.5 442.7,288.8 443.6,288.3 444.6,287.6 445.5,287.5 446.4,287.0 447.4,286.7 448.3,286.9 449.2,286.7 450.2,285.9 451.1,284.7 452.0,282.9 453.0,280.5 453.9,278.2 454.9,274.8 455.8,272.2 456.7,269.0 457.7,264.3 458.6,262.1 459.5,257.2 460.5,250.5 461.4,250.3 462.3,247.9 463.3,242.4 464.2,243.0 465.1,236.0 466.1,242.5 467.0,234.9 468.0,238.0 468.9,239.3 469.8,229.3 470.8,238.0 471.7,228.3 472.6,230.9 473.6,227.4 474.5,235.8 475.4,227.6 476.4,225.3 477.3,230.7 478.2,231.1 479.2,221.2 480.1,229.0 481.1,232.0 482.0,233.0 482.9,228.9 483.9,228.9 484.8,229.4 485.7,223.4 486.7,230.5 487.6,228.0 488.5,223.8 489.5,232.7 490.4,225.6 491.4,221.6 492.3,233.0 493.2,231.1 494.2,225.9 495.1,224.8 496.0,218.4 497.0,231.5 497.9,225.6 498.8,221.4 499.8,232.6 500.7,228.4 501.6,234.0 502.6,223.9 503.5,228.5 504.5,226.9 505.4,225.3 506.3,223.0 507.3,226.0 508.2,224.6 509.1,226.5 510.1,223.9 511.0,228.4 511.9,223.9 512.9,230.9 513.8,225.9 514.7,215.9 515.7,221.8 516.6,227.4 517.6,221.5 518.5,224.2 519.4,224.9 520.4,220.2 521.3,215.0 522.2,217.9 523.2,221.0 524.1,221.7 525.0,221.4 526.0,216.1" fill="none" stroke="#555555" stroke-width="1.15" stroke-linejoin="round"/>
</g>
<rect x="309.2" y="193.8" width="236.2" height="103.2" fill="none" stroke="#222" stroke-width="0.9"/>
<line x1="309.2" y1="292.2" x2="312.4" y2="292.2" stroke="#222" stroke-width="0.9"/>
<text class="ax" x="306.5" y="295.0" text-anchor="end">0</text>
<line x1="309.2" y1="270.2" x2="312.4" y2="270.2" stroke="#222" stroke-width="0.9"/>
<text class="ax" x="306.5" y="273.0" text-anchor="end">20</text>
<line x1="309.2" y1="248.2" x2="312.4" y2="248.2" stroke="#222" stroke-width="0.9"/>
<text class="ax" x="306.5" y="251.0" text-anchor="end">40</text>
<line x1="309.2" y1="226.2" x2="312.4" y2="226.2" stroke="#222" stroke-width="0.9"/>
<text class="ax" x="306.5" y="229.0" text-anchor="end">60</text>
<line x1="309.2" y1="204.2" x2="312.4" y2="204.2" stroke="#222" stroke-width="0.9"/>
<text class="ax" x="306.5" y="207.0" text-anchor="end">80</text>
<line x1="309.2" y1="281.2" x2="311" y2="281.2" stroke="#222" stroke-width="0.8"/>
<line x1="309.2" y1="259.2" x2="311" y2="259.2" stroke="#222" stroke-width="0.8"/>
<line x1="309.2" y1="237.2" x2="311" y2="237.2" stroke="#222" stroke-width="0.8"/>
<line x1="309.2" y1="215.2" x2="311" y2="215.2" stroke="#222" stroke-width="0.8"/>
<line x1="325.7" y1="297" x2="325.7" y2="300" stroke="#222" stroke-width="0.9"/>
<text class="ax" x="325.7" y="306.9" text-anchor="middle">0.00</text>
<line x1="373.0" y1="297" x2="373.0" y2="300" stroke="#222" stroke-width="0.9"/>
<text class="ax" x="373.0" y="306.9" text-anchor="middle">0.03</text>
<line x1="420.3" y1="297" x2="420.3" y2="300" stroke="#222" stroke-width="0.9"/>
<text class="ax" x="420.3" y="306.9" text-anchor="middle">0.06</text>
<line x1="467.6" y1="297" x2="467.6" y2="300" stroke="#222" stroke-width="0.9"/>
<text class="ax" x="467.6" y="306.9" text-anchor="middle">0.09</text>
<line x1="514.9" y1="297" x2="514.9" y2="300" stroke="#222" stroke-width="0.9"/>
<text class="ax" x="514.9" y="306.9" text-anchor="middle">0.12</text>
<line x1="349.4" y1="297" x2="349.4" y2="298.8" stroke="#222" stroke-width="0.8"/>
<line x1="396.7" y1="297" x2="396.7" y2="298.8" stroke="#222" stroke-width="0.8"/>
<line x1="444.0" y1="297" x2="444.0" y2="298.8" stroke="#222" stroke-width="0.8"/>
<line x1="491.3" y1="297" x2="491.3" y2="298.8" stroke="#222" stroke-width="0.8"/>
<text class="axl" x="428" y="319.6" text-anchor="middle" style="font-size:9.9px">Distance (μm)</text>
<text class="axl" transform="translate(291.6,240.6) rotate(-90)" text-anchor="middle" style="font-size:9.7px">Atomic percentage (%)</text>
<line x1="323.6" y1="198.6" x2="339.5" y2="198.6" stroke="#555555" stroke-width="0.9"/>
<text class="ax" x="346.6" y="201.3" text-anchor="middle">Ta</text>
<line x1="354" y1="198.6" x2="369.6" y2="198.6" stroke="#f25a5a" stroke-width="0.9"/>
<text class="ax" x="376" y="201.3" text-anchor="middle">Zn</text>
<line x1="382.4" y1="198.6" x2="399" y2="198.6" stroke="#1a6ee0" stroke-width="0.9"/>
<text class="ax" x="406" y="201.3" text-anchor="middle">Ga</text>
<line x1="412" y1="198.6" x2="428.7" y2="198.6" stroke="#14b06a" stroke-width="0.9"/>
<text class="ax" x="435" y="201.3" text-anchor="middle">In</text>
<line x1="441" y1="198.6" x2="457" y2="198.6" stroke="#c98ae6" stroke-width="0.9"/>
<text class="ax" x="464" y="201.3" text-anchor="middle">Sn</text>
<line x1="471.7" y1="198.6" x2="487" y2="198.6" stroke="#e6a11c" stroke-width="0.9"/>
<text class="ax" x="491.7" y="201.3" text-anchor="middle">N</text>
<line x1="496" y1="198.6" x2="512" y2="198.6" stroke="#1ccaca" stroke-width="0.9"/>
<text class="ax" x="518" y="201.3" text-anchor="middle">O</text>
<text class="axl" x="361.5" y="211.2" text-anchor="middle" style="font-size:8.6px">ITO</text>
<text class="axl" x="423" y="211.2" text-anchor="middle" style="font-size:8.6px">IGZO</text>
<text class="axl" x="488" y="211.2" text-anchor="middle" style="font-size:8.6px">TaN</text>
</g>
</svg></body></html>
